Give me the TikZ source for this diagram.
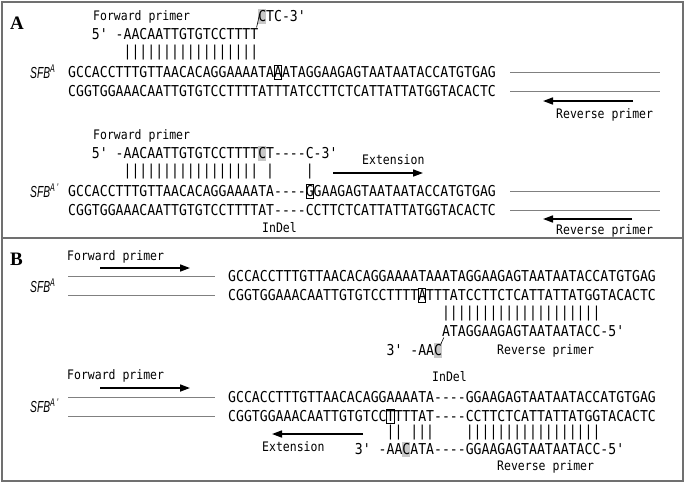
\documentclass[tikz,border=0pt]{standalone}
\usepackage{fontspec}
\usetikzlibrary{arrows.meta}
\setmonofont{DejaVu Sans Mono}[FakeStretch=0.877]
\newfontfamily\sfbfont{Liberation Sans}[FakeStretch=0.64]
\newfontfamily\panfont{Liberation Serif}
\definecolor{framegray}{HTML}{707070}
\definecolor{hl}{HTML}{C8C8C8}
\definecolor{linegray}{HTML}{808080}
\tikzset{
 seq/.style={font=\ttfamily\fontsize{15}{15}\selectfont, inner sep=0pt, anchor=base west},
 lab/.style={font=\ttfamily\fontsize{13.1}{13.1}\selectfont, inner sep=0pt, anchor=base west},
 sfb/.style={font=\sfbfont\itshape\fontsize{16}{16}\selectfont, inner sep=0pt, anchor=west},
 panel/.style={font=\panfont\bfseries\fontsize{19}{19}\selectfont, inner sep=0pt, anchor=west},
 hlbox/.style={fill=hl, draw=none},
 basebox/.style={draw=black, line width=0.7pt},
 strand/.style={draw=linegray, line width=0.8pt},
 bigarrow/.style={draw=black, line width=1.6pt, -{Triangle[length=10pt,width=7pt]}},
 frame/.style={draw=framegray, line width=1.3pt},
 slash/.style={draw=black, line width=0.6pt},
}
\begin{document}
\begin{tikzpicture}[x=1pt,y=-1pt]
\useasboundingbox (0,0) rectangle (685,483);
\def\cw{7.92}
% frames
\draw[frame] (2,2) rectangle (683,481);
\draw[frame] (2,238) -- (683,238);

% ================= Panel A, first =================
\fill[hlbox] ({68+24*\cw},8.5) rectangle ({68+25*\cw},23.5);
\node[panel] (lA) at (10,23) {A};
\node[lab] (fpA1) at (93,20.5) {Forward primer};
\node[seq] (ctcA1) at ({68+24*\cw},21.5) {CTC-3'};
\node[seq] (prA1) at ({68+3*\cw},39.5) {5'~-AACAATTGTGTCCTTTT};
\node[seq] (barA1) at ({68+7*\cw},56.5) {|||||||||||||||||};
\node[seq] (s1A1) at (68,77.5) {GCCACCTTTGTTAACACAGGAAAATAAATAGGAAGAGTAATAATACCATGTGAG};
\node[seq] (s2A1) at (68,96.5) {CGGTGGAAACAATTGTGTCCTTTTATTTATCCTTCTCATTATTATGGTACACTC};
\draw[basebox] ({68+26*\cw+0.3},65) rectangle ({68+27*\cw-0.3},79);
\draw[slash] ({68+24*\cw-1.5},27.5) -- ({68+24*\cw+1.5},14);
\node[sfb] (gA1) at (30,72) {SFB\textsuperscript{A}};
\coordinate (lA1a) at (510,72); \coordinate (lA1b) at (660,72);
\coordinate (lA1c) at (510,91); \coordinate (lA1d) at (660,91);
\draw[strand] (lA1a) -- (lA1b);
\draw[strand] (lA1c) -- (lA1d);
\coordinate (rA1s) at (633,101); \coordinate (rA1e) at (543,101);
\draw[bigarrow] (rA1s) -- (rA1e);
\node[lab] (rpA1) at (556,118.5) {Reverse primer};

% ================= Panel A, second =================
\fill[hlbox] ({68+24*\cw},145.5) rectangle ({68+25*\cw},160.5);
\node[lab] (fpA2) at (93,139.5) {Forward primer};
\node[seq] (prA2) at ({68+3*\cw},158.5) {5'~-AACAATTGTGTCCTTTTCT----C-3'};
\node[seq] (barA2) at ({68+7*\cw},175.2) {|||||||||||||||||~|~~~~|};
\node[lab] (extA) at (362,164.5) {Extension};
\coordinate (eAs) at (333,173); \coordinate (eAe) at (423,173);
\draw[bigarrow] (eAs) -- (eAe);
\node[seq] (s1A2) at (68,196.5) {GCCACCTTTGTTAACACAGGAAAATA----GGAAGAGTAATAATACCATGTGAG};
\node[seq] (s2A2) at (68,215.5) {CGGTGGAAACAATTGTGTCCTTTTAT----CCTTCTCATTATTATGGTACACTC};
\draw[basebox] ({68+30*\cw+0.3},184) rectangle ({68+31*\cw-0.3},198);
\node[lab] (indA) at (262,232) {InDel};
\node[sfb] (gA2) at (30,191) {SFB\textsuperscript{A\,'}};
\coordinate (lA2a) at (510,191); \coordinate (lA2b) at (660,191);
\coordinate (lA2c) at (510,210); \coordinate (lA2d) at (660,210);
\draw[strand] (lA2a) -- (lA2b);
\draw[strand] (lA2c) -- (lA2d);
\coordinate (rA2s) at (632,219); \coordinate (rA2e) at (543,219);
\draw[bigarrow] (rA2s) -- (rA2e);
\node[lab] (rpA2) at (556,234.5) {Reverse primer};

% ================= Panel B, first =================
\node[panel] (lB) at (10,259) {B};
\node[lab] (fpB1) at (67,260.5) {Forward primer};
\coordinate (fB1s) at (100,268); \coordinate (fB1e) at (190,268);
\draw[bigarrow] (fB1s) -- (fB1e);
\coordinate (lB1a) at (68,276); \coordinate (lB1b) at (215,276);
\coordinate (lB1c) at (68,295); \coordinate (lB1d) at (215,295);
\draw[strand] (lB1a) -- (lB1b);
\draw[strand] (lB1c) -- (lB1d);
\node[sfb] (gB1) at (30,286) {SFB\textsuperscript{A}};
\node[seq] (s1B1) at (228,281.5) {GCCACCTTTGTTAACACAGGAAAATAAATAGGAAGAGTAATAATACCATGTGAG};
\node[seq] (s2B1) at (228,300.5) {CGGTGGAAACAATTGTGTCCTTTTATTTATCCTTCTCATTATTATGGTACACTC};
\draw[basebox] ({228+24*\cw+0.3},288) rectangle ({228+25*\cw-0.3},302);
\node[seq] (barB1) at ({228+27*\cw},317.2) {||||||||||||||||||||};
\node[seq] (prB1) at ({228+27*\cw},336.5) {ATAGGAAGAGTAATAATACC-5'};
\fill[hlbox] ({228+26*\cw},342.5) rectangle ({228+27*\cw},357.5);
\node[seq] (p3B1) at ({228+20*\cw},355.5) {3'~-AAC};
\draw[slash] ({228+27*\cw-1},344) -- ({228+27*\cw+2},337.5);
\node[lab] (rpB1) at (497,354.5) {Reverse primer};

% ================= Panel B, second =================
\node[lab] (fpB2) at (67,379.5) {Forward primer};
\coordinate (fB2s) at (100,388); \coordinate (fB2e) at (190,388);
\draw[bigarrow] (fB2s) -- (fB2e);
\coordinate (lB2a) at (68,397); \coordinate (lB2b) at (215,397);
\coordinate (lB2c) at (68,416); \coordinate (lB2d) at (215,416);
\draw[strand] (lB2a) -- (lB2b);
\draw[strand] (lB2c) -- (lB2d);
\node[sfb] (gB2) at (30,406) {SFB\textsuperscript{A\,'}};
\node[lab] (indB) at (432,381.5) {InDel};
\node[seq] (s1B2) at (228,402.5) {GCCACCTTTGTTAACACAGGAAAATA----GGAAGAGTAATAATACCATGTGAG};
\node[seq] (s2B2) at (228,421.5) {CGGTGGAAACAATTGTGTCCTTTTAT----CCTTCTCATTATTATGGTACACTC};
\draw[basebox] ({228+20*\cw+0.3},409) rectangle ({228+21*\cw-0.3},423);
\node[seq] (barB2) at ({228+20*\cw},436.2) {||~|||~~~~|||||||||||||||||};
\coordinate (eBs) at (363,434); \coordinate (eBe) at (272,434);
\draw[bigarrow] (eBs) -- (eBe);
\node[lab] (extB) at (262,451.5) {Extension};
\fill[hlbox] ({228+22*\cw},441.5) rectangle ({228+23*\cw},456.5);
\node[seq] (p3B2) at ({228+16*\cw},454.5) {3'~-AACATA----GGAAGAGTAATAATACC-5'};
\node[lab] (rpB2) at (497,470.5) {Reverse primer};
\end{tikzpicture}
\end{document}
